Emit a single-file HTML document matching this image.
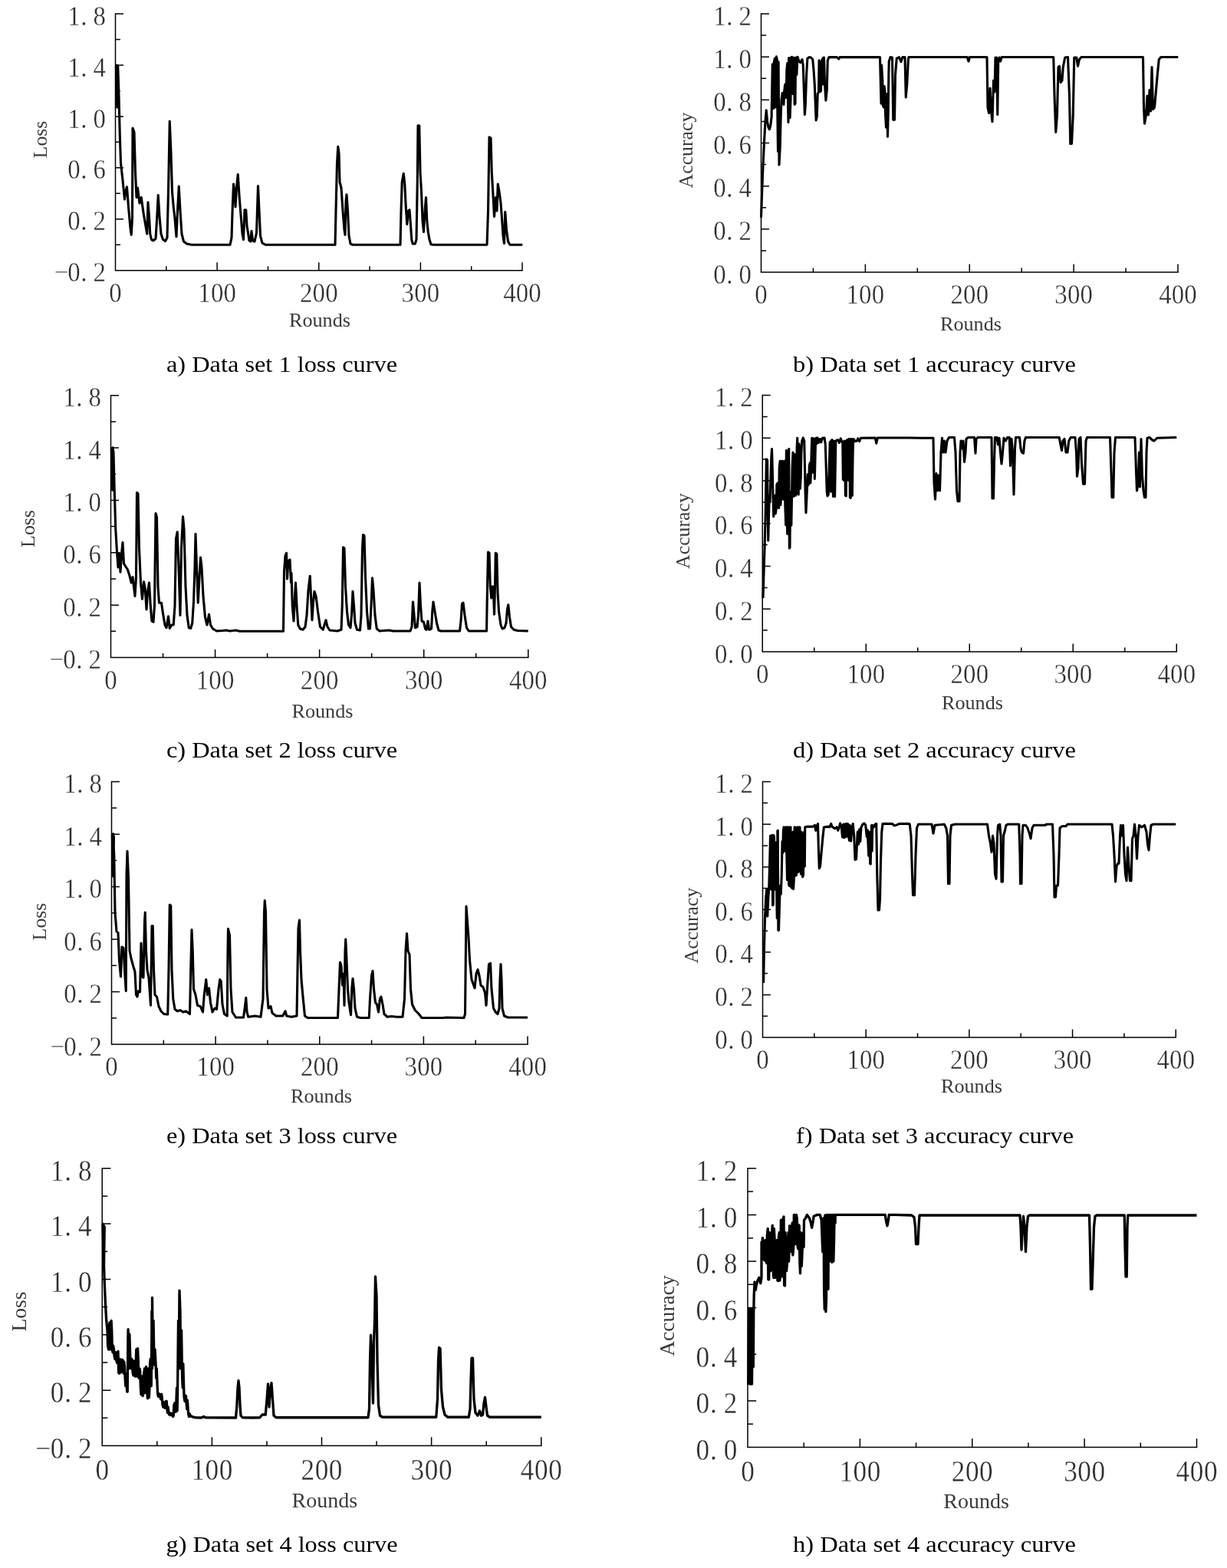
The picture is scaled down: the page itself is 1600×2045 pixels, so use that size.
<!DOCTYPE html>
<html><head><meta charset="utf-8"><title>Loss and accuracy curves</title>
<style>
html,body{margin:0;padding:0;background:#fff;}
svg{display:block}
text{font-family:"Liberation Serif", serif;}
.d{fill:#2e2e2e;stroke:#fff;stroke-width:0.35}
.l{fill:#3a3a3a}
.c{fill:#000}
.ax{fill:none;stroke:#000;stroke-width:1.5}
.tk{fill:none;stroke:#000;stroke-width:1.5}
.cv{fill:none;stroke:#000;stroke-linejoin:round;stroke-linecap:butt}
</style></head><body>
<svg width="1600" height="2045" viewBox="0 0 1600 2045">
<rect width="1600" height="2045" fill="#fff"/>
<path d="M150.5,17.25 V352.7 H681.75" class="ax"/>
<text transform="scale(0.9 1)" x="107.2 121.6 144.1" y="32.7" font-size="36.5" text-anchor="middle" class="d">1.8</text>
<text transform="scale(0.9 1)" x="107.2 121.6 144.1" y="99.6" font-size="36.5" text-anchor="middle" class="d">1.4</text>
<text transform="scale(0.9 1)" x="107.2 121.6 144.1" y="166.6" font-size="36.5" text-anchor="middle" class="d">1.0</text>
<text transform="scale(0.9 1)" x="107.2 121.6 144.1" y="233.5" font-size="36.5" text-anchor="middle" class="d">0.6</text>
<text transform="scale(0.9 1)" x="107.2 121.6 144.1" y="300.5" font-size="36.5" text-anchor="middle" class="d">0.2</text>
<text transform="scale(0.9 1)" x="88.8 107.2 121.6 144.1" y="367.4" font-size="36.5" text-anchor="middle" class="d">−0.2</text>
<text transform="scale(0.9 1)" x="167.2" y="393.9" font-size="36.5" text-anchor="middle" class="d">0</text>
<text transform="scale(0.9 1)" x="296.1 314.6 333.0" y="393.9" font-size="36.5" text-anchor="middle" class="d">100</text>
<text transform="scale(0.9 1)" x="443.5 461.9 480.4" y="393.9" font-size="36.5" text-anchor="middle" class="d">200</text>
<text transform="scale(0.9 1)" x="590.9 609.3 627.8" y="393.9" font-size="36.5" text-anchor="middle" class="d">300</text>
<text transform="scale(0.9 1)" x="738.2 756.7 775.1" y="393.9" font-size="36.5" text-anchor="middle" class="d">400</text>
<path d="M150.5,18.00h10.5M150.5,51.47h6.5M150.5,84.94h10.5M150.5,118.41h6.5M150.5,151.88h10.5M150.5,185.35h6.5M150.5,218.82h10.5M150.5,252.29h6.5M150.5,285.76h10.5M150.5,319.23h6.5M216.81,352.7v-5.5M283.12,352.7v-10.5M349.44,352.7v-5.5M415.75,352.7v-10.5M482.06,352.7v-5.5M548.38,352.7v-10.5M614.69,352.7v-5.5M681.00,352.7v-10.5" class="tk"/>
<polyline class="cv" stroke-width="3.10" points="151.4,85.94 152.7,139.94 153.5,88.94 152.5,85.0 153.75,86.25 155.0,125.0 156.25,175.0 157.5,212.5 160.0,235.0 162.5,260.0 163.75,250.0 165.5,243.75 167.5,270.0 170.0,297.5 171.25,306.25 172.5,285.0 173.0,167.0 175.0,172.5 176.5,225.0 178.0,257.5 179.5,245.0 182.0,265.0 184.25,257.5 187.0,277.5 190.0,295.0 191.75,305.0 193.0,263.75 194.5,282.5 195.75,305.0 197.5,312.5 200.0,313.75 203.0,311.25 204.5,287.5 206.25,254.5 208.0,282.5 210.0,305.0 212.5,312.5 215.5,314.5 218.0,310.0 219.5,250.0 221.25,158.0 223.0,200.0 224.5,250.0 226.25,270.0 228.0,285.0 230.0,308.75 231.5,275.0 233.25,243.0 235.0,275.0 237.0,305.0 239.5,315.0 243.75,318.0 250.0,319.25 300.0,319.25 302.0,310.0 303.25,270.0 304.5,240.0 306.0,250.0 307.0,270.0 308.5,245.0 310.25,227.5 312.0,255.0 314.0,280.0 316.0,305.0 317.5,312.5 319.0,273.75 320.75,273.75 322.0,295.0 323.5,303.75 325.0,313.75 326.75,315.0 328.0,301.25 329.5,313.75 332.0,315.0 334.5,303.75 336.5,242.5 338.0,275.0 339.5,307.5 342.0,317.0 346.25,319.25 400.0,319.25 437.0,319.25 438.0,275.0 439.5,212.5 440.75,191.25 442.0,200.0 443.0,237.5 445.0,245.0 447.0,275.0 449.0,300.0 450.0,306.25 451.0,262.5 452.0,253.75 453.5,275.0 455.0,307.5 457.0,318.0 460.0,319.25 522.0,319.25 523.0,275.0 524.25,237.5 526.25,226.25 527.75,240.0 529.25,270.0 530.75,292.5 532.5,275.0 534.0,273.75 535.25,290.0 536.75,312.5 538.25,318.0 541.25,318.0 543.0,312.5 544.25,237.5 545.0,163.75 546.75,163.75 548.0,225.0 549.5,250.0 551.0,287.5 552.5,302.5 554.0,275.0 555.5,257.5 556.75,287.5 558.25,302.5 560.0,312.5 562.0,318.75 565.0,319.25 635.0,319.25 636.5,275.0 638.0,178.75 640.0,180.0 641.25,225.0 643.0,255.0 644.5,282.5 646.5,257.5 648.0,275.0 649.25,240.0 651.0,250.0 653.0,265.0 654.5,285.0 656.0,307.5 657.5,317.5 658.75,276.25 660.5,300.0 662.5,315.0 665.0,319.25 681.25,319.25"/>
<text transform="translate(61,182) rotate(-90)" text-anchor="middle" font-size="25.8" class="l">Loss</text>
<text x="417" y="426" text-anchor="middle" font-size="26.2" class="l">Rounds</text>
<text x="217" y="484.5" textLength="301" lengthAdjust="spacingAndGlyphs" font-size="29" class="c">a) Data set 1 loss curve</text>
<path d="M992.5,17.25 V355 H1536.75" class="ax"/>
<text transform="scale(0.9 1)" x="1042.8 1057.2 1079.7" y="32.7" font-size="36.5" text-anchor="middle" class="d">1.2</text>
<text transform="scale(0.9 1)" x="1042.8 1057.2 1079.7" y="88.9" font-size="36.5" text-anchor="middle" class="d">1.0</text>
<text transform="scale(0.9 1)" x="1042.8 1057.2 1079.7" y="145.0" font-size="36.5" text-anchor="middle" class="d">0.8</text>
<text transform="scale(0.9 1)" x="1042.8 1057.2 1079.7" y="201.2" font-size="36.5" text-anchor="middle" class="d">0.6</text>
<text transform="scale(0.9 1)" x="1042.8 1057.2 1079.7" y="257.4" font-size="36.5" text-anchor="middle" class="d">0.4</text>
<text transform="scale(0.9 1)" x="1042.8 1057.2 1079.7" y="313.5" font-size="36.5" text-anchor="middle" class="d">0.2</text>
<text transform="scale(0.9 1)" x="1042.8 1057.2 1079.7" y="369.7" font-size="36.5" text-anchor="middle" class="d">0.0</text>
<text transform="scale(0.9 1)" x="1102.8" y="396.2" font-size="36.5" text-anchor="middle" class="d">0</text>
<text transform="scale(0.9 1)" x="1235.3 1253.7 1272.2" y="396.2" font-size="36.5" text-anchor="middle" class="d">100</text>
<text transform="scale(0.9 1)" x="1386.3 1404.7 1423.2" y="396.2" font-size="36.5" text-anchor="middle" class="d">200</text>
<text transform="scale(0.9 1)" x="1537.2 1555.7 1574.1" y="396.2" font-size="36.5" text-anchor="middle" class="d">300</text>
<text transform="scale(0.9 1)" x="1688.2 1706.7 1725.1" y="396.2" font-size="36.5" text-anchor="middle" class="d">400</text>
<path d="M992.5,18.00h10.5M992.5,46.08h6.5M992.5,74.17h10.5M992.5,102.25h6.5M992.5,130.33h10.5M992.5,158.42h6.5M992.5,186.50h10.5M992.5,214.58h6.5M992.5,242.67h10.5M992.5,270.75h6.5M992.5,298.83h10.5M992.5,326.92h6.5M1060.44,355v-5.5M1128.38,355v-10.5M1196.31,355v-5.5M1264.25,355v-10.5M1332.19,355v-5.5M1400.12,355v-10.5M1468.06,355v-5.5M1536.00,355v-10.5" class="tk"/>
<polyline class="cv" stroke-width="3.10" points="992.5,283.75 993.75,247.5 995.0,216.25 996.5,185.0 997.88,160.0 999.25,143.75 1000.62,158.75 1002.0,166.25 1003.38,168.75 1004.75,163.75 1006.12,152.5 1007.25,83.75 1007.85,140.0 1008.75,141.25 1009.35,81.25 1010.25,76.25 1010.85,140.0 1011.75,117.5 1012.35,73.75 1013.25,77.5 1013.85,147.5 1014.5,197.5 1015.1,80.62 1016.0,215.0 1017.25,191.25 1018.12,153.75 1019.0,130.0 1020.25,121.25 1020.85,135.0 1022.0,136.25 1022.6,119.38 1023.75,110.0 1024.35,127.5 1025.25,125.0 1025.85,91.25 1026.75,82.5 1027.35,127.5 1028.0,159.38 1028.6,75.62 1029.5,76.25 1030.1,153.75 1031.0,130.0 1031.6,75.0 1032.5,74.38 1033.1,116.25 1034.0,122.5 1034.6,75.0 1035.5,75.62 1036.1,136.25 1037.0,135.0 1037.6,75.62 1038.25,75.0 1038.85,97.5 1040.0,74.25 1041.88,80.0 1043.75,81.5 1046.0,77.5 1047.25,85.0 1048.5,122.5 1049.38,149.38 1050.38,135.0 1051.62,97.5 1052.88,76.25 1055.0,74.62 1057.5,75.0 1059.75,77.5 1061.0,91.25 1062.25,110.0 1063.25,135.0 1064.12,156.88 1065.25,152.5 1066.25,122.5 1067.5,120.0 1068.1,78.75 1069.0,85.0 1069.6,119.38 1070.5,118.75 1071.1,82.5 1072.0,77.5 1072.6,110.0 1073.25,75.62 1074.5,75.0 1075.5,110.0 1076.88,131.0 1078.25,117.5 1079.25,78.75 1081.0,74.62 1091.25,74.62 1093.75,76.88 1095.0,74.62 1147.5,74.62 1149.0,135.0 1149.6,85.0 1150.75,103.75 1151.35,137.5 1152.5,140.0 1153.1,112.5 1154.0,120.0 1154.6,150.0 1155.5,166.25 1156.1,122.5 1156.88,130.0 1157.48,178.12 1158.25,147.5 1158.85,97.5 1159.25,80.0 1161.0,74.62 1163.5,75.0 1164.75,156.25 1166.5,156.25 1167.5,97.5 1169.25,76.25 1172.5,74.62 1175.0,80.62 1176.88,74.62 1180.0,74.62 1181.25,126.88 1182.75,110.0 1184.38,77.5 1185.0,74.62 1186.25,74.5 1200.0,74.5 1261.25,74.5 1263.0,80.0 1264.5,74.5 1287.0,74.5 1288.0,140.0 1289.5,147.5 1291.0,115.0 1292.5,145.0 1294.0,158.75 1295.5,105.0 1297.0,120.0 1298.0,75.0 1299.5,75.0 1300.75,149.5 1301.75,80.0 1303.0,75.0 1304.5,80.0 1306.25,74.5 1373.75,74.5 1375.0,125.0 1376.75,172.5 1378.5,150.0 1380.0,87.5 1381.5,86.25 1383.0,107.5 1385.0,105.0 1386.25,87.5 1388.75,75.0 1392.5,74.5 1394.5,125.0 1395.75,187.5 1397.5,187.5 1399.25,150.0 1400.75,75.0 1403.75,75.0 1405.5,86.25 1407.5,77.5 1410.0,74.5 1490.5,74.5 1491.5,140.0 1492.5,161.25 1494.5,150.0 1496.0,125.0 1497.5,150.0 1499.0,117.5 1500.5,145.0 1502.0,87.5 1503.5,142.5 1505.5,140.0 1507.5,117.5 1509.5,95.0 1511.25,77.5 1513.75,74.5 1536.25,74.5"/>
<text transform="translate(902.5,196) rotate(-90)" text-anchor="middle" font-size="25.8" class="l">Accuracy</text>
<text x="1266" y="430.5" text-anchor="middle" font-size="26.2" class="l">Rounds</text>
<text x="1034" y="484.5" textLength="369" lengthAdjust="spacingAndGlyphs" font-size="29" class="c">b) Data set 1 accuracy curve</text>
<path d="M144.5,515.0 V857.5 H689.5" class="ax"/>
<text transform="scale(0.9 1)" x="100.6 114.9 137.4" y="530.5" font-size="36.5" text-anchor="middle" class="d">1.8</text>
<text transform="scale(0.9 1)" x="100.6 114.9 137.4" y="598.8" font-size="36.5" text-anchor="middle" class="d">1.4</text>
<text transform="scale(0.9 1)" x="100.6 114.9 137.4" y="667.2" font-size="36.5" text-anchor="middle" class="d">1.0</text>
<text transform="scale(0.9 1)" x="100.6 114.9 137.4" y="735.5" font-size="36.5" text-anchor="middle" class="d">0.6</text>
<text transform="scale(0.9 1)" x="100.6 114.9 137.4" y="803.9" font-size="36.5" text-anchor="middle" class="d">0.2</text>
<text transform="scale(0.9 1)" x="82.1 100.6 114.9 137.4" y="872.2" font-size="36.5" text-anchor="middle" class="d">−0.2</text>
<text transform="scale(0.9 1)" x="160.6" y="898.7" font-size="36.5" text-anchor="middle" class="d">0</text>
<text transform="scale(0.9 1)" x="293.3 311.7 330.2" y="898.7" font-size="36.5" text-anchor="middle" class="d">100</text>
<text transform="scale(0.9 1)" x="444.5 462.9 481.4" y="898.7" font-size="36.5" text-anchor="middle" class="d">200</text>
<text transform="scale(0.9 1)" x="595.7 614.1 632.5" y="898.7" font-size="36.5" text-anchor="middle" class="d">300</text>
<text transform="scale(0.9 1)" x="746.8 765.3 783.7" y="898.7" font-size="36.5" text-anchor="middle" class="d">400</text>
<path d="M144.5,515.75h10.5M144.5,549.92h6.5M144.5,584.10h10.5M144.5,618.27h6.5M144.5,652.45h10.5M144.5,686.62h6.5M144.5,720.80h10.5M144.5,754.97h6.5M144.5,789.15h10.5M144.5,823.32h6.5M212.53,857.5v-5.5M280.56,857.5v-10.5M348.59,857.5v-5.5M416.62,857.5v-10.5M484.66,857.5v-5.5M552.69,857.5v-10.5M620.72,857.5v-5.5M688.75,857.5v-10.5" class="tk"/>
<polyline class="cv" stroke-width="3.10" points="145.4,585.1 146.7,639.1 147.5,588.1 147.0,583.75 148.0,590.0 149.25,640.0 150.75,690.0 152.5,720.0 154.0,740.0 155.5,721.25 157.0,746.25 158.5,722.5 160.0,707.5 161.5,735.0 163.75,738.75 166.25,742.5 168.75,750.0 171.25,760.0 173.0,752.5 174.5,765.0 176.0,777.5 177.5,752.5 178.5,642.5 180.0,643.75 181.5,715.0 183.5,760.0 185.5,781.25 187.5,758.75 189.25,767.5 191.0,795.0 192.5,772.5 194.5,760.0 196.25,790.0 198.0,810.0 200.0,811.25 201.5,790.0 203.0,669.5 204.5,675.0 206.0,765.0 207.5,786.25 210.5,786.25 212.5,800.0 215.0,815.0 217.0,818.75 219.5,803.75 221.25,819.5 223.75,815.0 226.25,815.0 228.0,790.0 229.5,702.5 231.25,693.75 233.0,740.0 235.0,802.5 236.5,715.0 238.5,673.75 240.0,690.0 242.0,765.0 244.0,802.5 246.25,818.75 248.75,819.5 250.75,812.5 252.5,785.0 254.0,740.0 255.0,696.25 256.5,740.0 258.25,786.25 260.0,752.5 261.5,727.0 263.0,740.0 265.0,777.5 267.5,805.0 270.0,815.0 272.5,801.25 274.5,815.0 277.5,820.0 282.5,823.0 290.0,822.5 295.0,822.0 300.0,823.0 307.5,822.0 312.5,823.25 369.5,823.25 370.5,745.0 372.0,725.0 373.5,721.25 374.5,755.0 376.0,731.25 378.0,730.0 379.5,760.0 380.0,747.5 381.25,790.0 383.0,810.0 384.5,777.5 385.5,760.0 387.0,790.0 388.75,815.0 391.25,820.0 395.0,821.25 398.0,817.5 400.0,802.5 402.0,770.0 404.25,751.25 405.5,777.5 407.0,808.75 408.5,785.0 410.0,771.25 412.0,777.5 414.5,797.5 417.5,817.5 421.25,821.25 423.0,815.0 425.0,808.75 427.0,817.5 430.0,822.0 440.0,823.0 445.0,821.25 446.25,790.0 447.5,713.75 449.0,715.0 450.5,765.0 452.5,797.5 454.5,815.0 457.0,818.75 458.5,802.5 460.0,771.25 461.5,790.0 463.0,812.5 465.5,821.25 469.5,822.0 471.0,802.5 472.5,715.0 473.5,697.5 475.0,698.75 476.5,752.5 478.5,797.5 480.5,820.0 482.5,820.0 484.0,790.0 485.5,753.75 487.0,770.0 489.0,802.5 491.25,820.0 495.0,823.0 500.0,822.5 507.5,822.0 512.5,823.0 535.0,823.0 537.0,817.5 538.5,785.0 540.0,802.5 541.5,818.75 544.0,817.5 545.5,802.5 547.0,760.0 548.5,790.0 550.0,810.0 552.5,811.25 554.5,820.0 556.0,821.25 558.0,810.0 559.5,821.25 562.5,820.0 563.75,797.5 565.0,785.0 567.0,797.5 569.5,812.5 572.0,822.0 575.0,823.0 599.5,823.0 601.0,810.0 602.5,787.5 604.0,786.25 606.0,802.5 608.5,818.75 611.25,823.0 634.5,823.0 635.5,765.0 636.5,720.0 638.0,721.25 639.25,765.0 640.75,780.0 642.0,765.0 643.25,765.0 644.5,801.25 645.5,765.0 646.25,721.25 647.75,722.5 649.0,772.5 650.5,797.5 653.0,815.0 655.0,820.0 658.0,818.75 660.0,812.5 661.5,795.0 662.75,788.75 664.5,805.0 666.5,817.5 670.0,821.25 675.0,822.5 688.75,823.0"/>
<text transform="translate(45,689.5) rotate(-90)" text-anchor="middle" font-size="25.8" class="l">Loss</text>
<text x="420.5" y="935.6" text-anchor="middle" font-size="26.2" class="l">Rounds</text>
<text x="217" y="987.5" textLength="301" lengthAdjust="spacingAndGlyphs" font-size="29" class="c">c) Data set 2 loss curve</text>
<path d="M994.25,514.75 V850 H1535.0" class="ax"/>
<text transform="scale(0.9 1)" x="1044.7 1059.1 1081.6" y="530.2" font-size="36.5" text-anchor="middle" class="d">1.2</text>
<text transform="scale(0.9 1)" x="1044.7 1059.1 1081.6" y="586.0" font-size="36.5" text-anchor="middle" class="d">1.0</text>
<text transform="scale(0.9 1)" x="1044.7 1059.1 1081.6" y="641.7" font-size="36.5" text-anchor="middle" class="d">0.8</text>
<text transform="scale(0.9 1)" x="1044.7 1059.1 1081.6" y="697.5" font-size="36.5" text-anchor="middle" class="d">0.6</text>
<text transform="scale(0.9 1)" x="1044.7 1059.1 1081.6" y="753.2" font-size="36.5" text-anchor="middle" class="d">0.4</text>
<text transform="scale(0.9 1)" x="1044.7 1059.1 1081.6" y="809.0" font-size="36.5" text-anchor="middle" class="d">0.2</text>
<text transform="scale(0.9 1)" x="1044.7 1059.1 1081.6" y="864.7" font-size="36.5" text-anchor="middle" class="d">0.0</text>
<text transform="scale(0.9 1)" x="1104.7" y="891.2" font-size="36.5" text-anchor="middle" class="d">0</text>
<text transform="scale(0.9 1)" x="1236.3 1254.7 1273.2" y="891.2" font-size="36.5" text-anchor="middle" class="d">100</text>
<text transform="scale(0.9 1)" x="1386.3 1404.7 1423.2" y="891.2" font-size="36.5" text-anchor="middle" class="d">200</text>
<text transform="scale(0.9 1)" x="1536.3 1554.7 1573.2" y="891.2" font-size="36.5" text-anchor="middle" class="d">300</text>
<text transform="scale(0.9 1)" x="1686.3 1704.7 1723.2" y="891.2" font-size="36.5" text-anchor="middle" class="d">400</text>
<path d="M994.25,515.50h10.5M994.25,543.38h6.5M994.25,571.25h10.5M994.25,599.12h6.5M994.25,627.00h10.5M994.25,654.88h6.5M994.25,682.75h10.5M994.25,710.62h6.5M994.25,738.50h10.5M994.25,766.38h6.5M994.25,794.25h10.5M994.25,822.12h6.5M1061.75,850v-5.5M1129.25,850v-10.5M1196.75,850v-5.5M1264.25,850v-10.5M1331.75,850v-5.5M1399.25,850v-10.5M1466.75,850v-5.5M1534.25,850v-10.5" class="tk"/>
<polyline class="cv" stroke-width="3.10" points="995.0,780.0 996.0,747.5 997.0,716.25 998.0,678.75 998.75,635.0 999.38,598.75 1000.62,600.0 1001.25,672.5 1001.75,705.0 1002.5,672.5 1003.25,647.5 1004.0,655.0 1005.0,622.5 1005.75,597.5 1006.5,585.62 1007.25,610.0 1008.0,647.5 1008.75,673.75 1009.75,647.5 1010.62,646.25 1011.22,670.0 1012.25,663.75 1012.85,632.5 1014.0,630.0 1014.6,661.25 1015.62,662.5 1016.22,610.0 1017.25,601.25 1017.85,658.75 1018.75,647.5 1019.35,601.25 1020.25,601.25 1020.85,650.0 1021.75,651.25 1022.35,601.88 1023.25,601.25 1023.85,660.0 1024.75,685.0 1025.35,587.5 1026.0,587.5 1026.6,696.25 1027.5,696.25 1028.1,588.75 1028.75,585.62 1029.35,715.0 1030.0,713.75 1030.6,647.5 1031.25,641.25 1031.85,685.0 1032.5,650.0 1033.1,610.0 1034.0,590.0 1034.6,647.5 1035.5,646.25 1036.1,592.5 1037.0,597.5 1037.6,646.25 1038.5,641.25 1039.1,585.0 1039.75,571.25 1040.35,642.5 1041.25,645.0 1041.85,578.75 1042.75,582.5 1043.35,637.5 1044.25,622.5 1044.85,591.25 1045.75,575.0 1047.25,571.0 1048.75,575.0 1049.5,610.0 1050.25,647.5 1051.0,668.75 1052.0,647.5 1053.25,618.75 1053.85,632.5 1054.75,630.62 1055.35,607.5 1056.25,603.75 1056.85,630.0 1057.5,616.25 1058.1,591.25 1058.75,571.25 1059.35,610.0 1060.25,616.25 1060.85,571.88 1061.75,572.5 1062.35,624.38 1063.0,597.5 1063.6,571.88 1064.25,571.25 1064.85,578.75 1066.0,571.0 1067.25,577.5 1069.0,572.5 1070.75,576.88 1072.5,571.25 1075.0,571.0 1076.25,578.75 1077.25,610.0 1078.25,641.25 1079.0,646.88 1080.25,645.0 1081.25,610.0 1082.25,576.25 1083.5,641.25 1084.1,574.38 1085.0,573.75 1085.6,610.0 1086.5,647.5 1087.1,575.0 1088.0,576.25 1088.6,647.5 1089.25,610.0 1089.85,575.0 1090.62,574.38 1092.5,573.75 1094.38,577.5 1096.25,571.88 1097.88,576.25 1098.75,576.25 1099.35,625.0 1100.25,626.25 1100.85,575.0 1101.75,575.62 1102.35,646.25 1103.25,646.88 1103.85,575.0 1104.75,573.75 1105.35,625.0 1106.25,626.25 1106.85,572.5 1107.75,572.5 1108.35,648.75 1109.25,649.38 1109.85,572.5 1110.75,572.5 1111.35,646.25 1112.0,597.5 1112.6,572.5 1113.0,572.5 1115.0,575.62 1117.5,575.0 1118.75,571.88 1120.62,575.62 1122.5,571.25 1141.25,571.0 1142.75,578.12 1144.38,571.0 1185.0,571.0 1200.0,571.25 1217.0,571.25 1218.0,630.0 1219.5,651.25 1221.0,617.5 1222.5,640.0 1224.0,620.0 1225.5,640.0 1227.0,590.0 1228.5,571.25 1230.0,590.0 1231.5,575.0 1233.0,590.0 1235.0,575.0 1237.5,570.5 1244.5,570.5 1246.0,590.0 1247.5,640.0 1249.0,653.75 1251.0,653.75 1252.0,590.0 1253.0,575.0 1254.5,585.0 1256.0,575.0 1257.5,602.5 1259.0,590.0 1260.0,572.5 1262.5,570.5 1270.5,570.5 1272.0,591.25 1273.0,572.5 1275.0,570.5 1293.0,570.5 1294.0,650.0 1295.5,650.0 1296.5,600.0 1297.5,570.5 1300.0,570.5 1301.5,580.0 1303.0,571.25 1304.5,590.0 1306.0,605.0 1307.5,590.0 1309.0,571.25 1311.25,575.0 1313.75,570.5 1316.25,570.5 1317.5,607.5 1319.0,572.5 1320.5,590.0 1322.0,645.0 1323.5,585.0 1324.5,570.5 1329.5,570.5 1331.0,585.0 1332.5,590.0 1334.5,591.25 1336.0,575.0 1337.5,570.5 1381.25,570.5 1383.0,580.0 1384.5,587.5 1386.0,575.0 1388.0,572.5 1390.0,590.0 1392.0,590.0 1393.75,575.0 1396.25,570.5 1402.0,570.5 1403.5,590.0 1404.5,621.25 1406.0,610.0 1407.0,572.5 1409.0,570.5 1410.5,605.0 1412.5,631.25 1414.5,631.25 1416.0,575.0 1417.5,570.5 1447.5,570.5 1449.0,615.0 1450.0,648.75 1451.75,648.75 1453.0,590.0 1454.5,570.5 1480.0,570.5 1481.5,615.0 1482.5,640.0 1484.0,630.0 1485.5,590.0 1486.5,635.0 1488.0,572.5 1489.5,620.0 1491.0,640.0 1492.5,648.75 1494.0,648.75 1495.0,590.0 1496.0,571.25 1498.75,570.5 1502.5,573.75 1505.0,575.0 1508.75,571.25 1534.25,570.5"/>
<text transform="translate(898.75,692.5) rotate(-90)" text-anchor="middle" font-size="25.8" class="l">Accuracy</text>
<text x="1268" y="924.5" text-anchor="middle" font-size="26.2" class="l">Rounds</text>
<text x="1034" y="987.5" textLength="369" lengthAdjust="spacingAndGlyphs" font-size="29" class="c">d) Data set 2 accuracy curve</text>
<path d="M145.5,1018.75 V1362 H688.75" class="ax"/>
<text transform="scale(0.9 1)" x="101.7 116.1 138.6" y="1034.2" font-size="36.5" text-anchor="middle" class="d">1.8</text>
<text transform="scale(0.9 1)" x="101.7 116.1 138.6" y="1102.7" font-size="36.5" text-anchor="middle" class="d">1.4</text>
<text transform="scale(0.9 1)" x="101.7 116.1 138.6" y="1171.2" font-size="36.5" text-anchor="middle" class="d">1.0</text>
<text transform="scale(0.9 1)" x="101.7 116.1 138.6" y="1239.7" font-size="36.5" text-anchor="middle" class="d">0.6</text>
<text transform="scale(0.9 1)" x="101.7 116.1 138.6" y="1308.2" font-size="36.5" text-anchor="middle" class="d">0.2</text>
<text transform="scale(0.9 1)" x="83.2 101.7 116.1 138.6" y="1376.7" font-size="36.5" text-anchor="middle" class="d">−0.2</text>
<text transform="scale(0.9 1)" x="161.7" y="1403.2" font-size="36.5" text-anchor="middle" class="d">0</text>
<text transform="scale(0.9 1)" x="293.9 312.4 330.8" y="1403.2" font-size="36.5" text-anchor="middle" class="d">100</text>
<text transform="scale(0.9 1)" x="444.6 463.1 481.5" y="1403.2" font-size="36.5" text-anchor="middle" class="d">200</text>
<text transform="scale(0.9 1)" x="595.3 613.8 632.2" y="1403.2" font-size="36.5" text-anchor="middle" class="d">300</text>
<text transform="scale(0.9 1)" x="746.0 764.4 782.9" y="1403.2" font-size="36.5" text-anchor="middle" class="d">400</text>
<path d="M145.5,1019.50h10.5M145.5,1053.75h6.5M145.5,1088.00h10.5M145.5,1122.25h6.5M145.5,1156.50h10.5M145.5,1190.75h6.5M145.5,1225.00h10.5M145.5,1259.25h6.5M145.5,1293.50h10.5M145.5,1327.75h6.5M213.31,1362v-5.5M281.12,1362v-10.5M348.94,1362v-5.5M416.75,1362v-10.5M484.56,1362v-5.5M552.38,1362v-10.5M620.19,1362v-5.5M688.00,1362v-10.5" class="tk"/>
<polyline class="cv" stroke-width="3.10" points="146.4,1089.0 147.7,1143.0 148.5,1092.0 147.5,1087.5 148.75,1115.0 150.0,1190.0 152.0,1215.0 154.0,1216.25 155.5,1252.5 157.5,1273.75 159.0,1235.0 161.0,1236.25 162.5,1265.0 164.25,1292.5 165.0,1140.0 166.0,1110.0 167.5,1145.0 169.0,1240.0 171.0,1250.0 173.75,1260.0 176.0,1267.5 177.5,1297.5 179.0,1300.0 180.5,1292.5 182.5,1293.75 184.0,1230.0 185.5,1273.75 187.0,1275.0 188.5,1202.5 189.25,1190.0 190.5,1240.0 192.0,1265.0 194.0,1275.0 196.5,1311.25 198.0,1207.5 199.25,1207.5 200.5,1265.0 202.0,1297.5 204.5,1300.0 207.0,1312.5 210.0,1318.75 213.75,1322.5 218.75,1323.0 220.0,1265.0 221.25,1180.0 222.75,1181.25 224.0,1265.0 225.75,1302.5 228.0,1316.25 231.25,1318.75 235.0,1317.5 238.75,1320.0 242.5,1318.75 247.5,1322.5 248.75,1265.0 250.0,1212.5 251.25,1240.0 252.5,1290.0 255.0,1297.5 257.5,1311.25 261.25,1312.5 264.5,1320.0 266.25,1297.5 268.75,1277.5 270.5,1297.5 272.5,1288.75 274.5,1307.5 277.0,1320.0 280.0,1315.0 282.5,1316.25 285.0,1290.0 286.75,1277.5 288.25,1280.0 290.0,1310.0 292.5,1322.5 296.25,1325.0 297.0,1240.0 297.5,1211.25 299.5,1220.0 301.0,1290.0 303.0,1320.0 307.5,1327.0 317.5,1327.0 319.5,1312.5 320.75,1301.25 322.0,1320.0 323.75,1326.25 332.5,1325.0 340.0,1326.25 343.0,1302.5 344.5,1190.0 345.25,1174.5 346.5,1190.0 348.0,1290.0 350.0,1315.0 353.0,1312.5 355.0,1321.25 360.0,1325.0 368.75,1325.0 372.0,1318.75 373.75,1325.0 380.0,1326.25 387.0,1325.0 388.0,1265.0 389.0,1210.0 390.5,1200.0 391.5,1240.0 393.0,1277.5 395.0,1300.0 397.5,1325.0 401.25,1327.5 440.5,1327.5 442.0,1290.0 443.5,1255.0 445.0,1260.0 446.5,1285.0 448.0,1270.0 449.0,1311.25 450.0,1240.0 450.75,1225.0 452.0,1252.5 453.5,1290.0 455.0,1307.5 457.5,1323.75 458.75,1290.0 460.0,1276.25 461.5,1290.0 463.0,1315.0 465.5,1326.25 470.0,1327.5 481.25,1327.5 482.5,1302.5 484.5,1272.5 486.0,1266.25 487.5,1290.0 489.5,1307.5 491.5,1310.0 493.5,1320.0 495.5,1302.5 497.0,1300.0 499.0,1310.0 501.0,1322.5 505.0,1326.25 510.0,1325.5 517.5,1326.25 525.0,1326.25 527.5,1302.5 529.0,1240.0 530.5,1217.5 532.0,1240.0 534.0,1245.0 535.5,1290.0 537.5,1310.0 541.25,1317.5 546.25,1322.5 550.0,1327.5 577.5,1327.5 582.5,1327.0 605.0,1327.5 606.5,1322.5 607.25,1252.5 608.0,1182.0 609.5,1202.5 611.0,1222.5 612.5,1252.5 615.0,1277.5 619.0,1288.75 621.0,1270.0 623.0,1264.5 625.0,1272.5 627.0,1285.0 630.0,1287.5 632.5,1295.0 634.0,1311.25 635.5,1287.5 637.5,1257.5 639.5,1256.25 641.0,1290.0 643.5,1315.0 646.25,1320.0 649.0,1322.5 651.0,1315.0 652.0,1277.5 653.0,1257.5 654.0,1277.5 655.0,1315.0 657.5,1325.0 662.5,1327.0 688.0,1327.0"/>
<text transform="translate(59.5,1202) rotate(-90)" text-anchor="middle" font-size="25.8" class="l">Loss</text>
<text x="419" y="1438" text-anchor="middle" font-size="26.2" class="l">Rounds</text>
<text x="217" y="1490.5" textLength="301" lengthAdjust="spacingAndGlyphs" font-size="29" class="c">e) Data set 3 loss curve</text>
<path d="M994.5,1018.75 V1353 H1534.0" class="ax"/>
<text transform="scale(0.9 1)" x="1045.0 1059.4 1081.9" y="1034.2" font-size="36.5" text-anchor="middle" class="d">1.2</text>
<text transform="scale(0.9 1)" x="1045.0 1059.4 1081.9" y="1089.8" font-size="36.5" text-anchor="middle" class="d">1.0</text>
<text transform="scale(0.9 1)" x="1045.0 1059.4 1081.9" y="1145.4" font-size="36.5" text-anchor="middle" class="d">0.8</text>
<text transform="scale(0.9 1)" x="1045.0 1059.4 1081.9" y="1201.0" font-size="36.5" text-anchor="middle" class="d">0.6</text>
<text transform="scale(0.9 1)" x="1045.0 1059.4 1081.9" y="1256.5" font-size="36.5" text-anchor="middle" class="d">0.4</text>
<text transform="scale(0.9 1)" x="1045.0 1059.4 1081.9" y="1312.1" font-size="36.5" text-anchor="middle" class="d">0.2</text>
<text transform="scale(0.9 1)" x="1045.0 1059.4 1081.9" y="1367.7" font-size="36.5" text-anchor="middle" class="d">0.0</text>
<text transform="scale(0.9 1)" x="1105.0" y="1394.2" font-size="36.5" text-anchor="middle" class="d">0</text>
<text transform="scale(0.9 1)" x="1236.2 1254.7 1273.1" y="1394.2" font-size="36.5" text-anchor="middle" class="d">100</text>
<text transform="scale(0.9 1)" x="1385.9 1404.3 1422.7" y="1394.2" font-size="36.5" text-anchor="middle" class="d">200</text>
<text transform="scale(0.9 1)" x="1535.5 1554.0 1572.4" y="1394.2" font-size="36.5" text-anchor="middle" class="d">300</text>
<text transform="scale(0.9 1)" x="1685.2 1703.6 1722.1" y="1394.2" font-size="36.5" text-anchor="middle" class="d">400</text>
<path d="M994.5,1019.50h10.5M994.5,1047.29h6.5M994.5,1075.08h10.5M994.5,1102.88h6.5M994.5,1130.67h10.5M994.5,1158.46h6.5M994.5,1186.25h10.5M994.5,1214.04h6.5M994.5,1241.83h10.5M994.5,1269.62h6.5M994.5,1297.42h10.5M994.5,1325.21h6.5M1061.84,1353v-5.5M1129.19,1353v-10.5M1196.53,1353v-5.5M1263.88,1353v-10.5M1331.22,1353v-5.5M1398.56,1353v-10.5M1465.91,1353v-5.5M1533.25,1353v-10.5" class="tk"/>
<polyline class="cv" stroke-width="3.10" points="995.62,1282.0 996.5,1235.0 997.5,1197.5 998.75,1170.0 999.75,1160.0 1000.75,1195.0 1001.75,1172.5 1002.75,1157.5 1003.75,1122.5 1004.5,1090.0 1005.1,1158.75 1005.75,1160.0 1006.35,1089.38 1007.0,1089.38 1007.6,1180.62 1008.25,1180.0 1008.85,1089.38 1009.5,1092.5 1010.1,1160.0 1010.75,1160.0 1011.35,1098.75 1012.0,1101.25 1012.6,1158.75 1013.25,1197.5 1013.85,1083.75 1014.25,1083.12 1014.85,1213.12 1015.5,1213.12 1016.5,1178.75 1017.25,1155.0 1018.25,1166.25 1019.25,1141.25 1020.0,1097.5 1020.75,1112.5 1021.35,1085.0 1022.0,1078.75 1022.6,1110.0 1023.5,1110.0 1024.1,1078.75 1025.0,1078.75 1025.6,1105.0 1026.5,1147.5 1027.1,1078.75 1028.0,1078.75 1028.6,1153.75 1029.5,1155.62 1030.1,1078.75 1031.0,1078.75 1031.6,1156.25 1032.5,1158.12 1033.1,1113.75 1034.0,1085.0 1034.6,1159.38 1035.5,1143.75 1036.1,1078.75 1037.0,1078.75 1037.6,1141.88 1038.5,1141.25 1039.1,1085.0 1040.0,1078.75 1040.6,1137.5 1041.5,1135.0 1042.1,1078.75 1043.0,1078.75 1043.6,1133.75 1044.5,1140.0 1045.1,1085.0 1046.0,1090.0 1046.6,1143.75 1047.5,1141.25 1048.1,1090.0 1048.75,1085.0 1049.35,1130.0 1049.75,1078.75 1052.5,1078.12 1060.0,1078.12 1062.5,1076.25 1063.75,1083.12 1065.0,1077.5 1066.5,1074.38 1067.25,1102.5 1068.25,1132.5 1069.5,1130.0 1071.25,1110.0 1073.0,1091.25 1074.38,1078.75 1080.0,1078.12 1081.88,1078.75 1083.75,1074.38 1085.0,1078.12 1088.75,1080.62 1091.25,1078.75 1092.75,1083.12 1094.38,1078.75 1095.62,1073.75 1097.25,1078.75 1098.5,1091.88 1099.1,1076.25 1100.0,1075.0 1100.6,1092.5 1101.5,1091.88 1102.1,1075.0 1103.0,1074.38 1103.6,1091.25 1104.5,1090.62 1105.1,1074.38 1106.0,1075.0 1106.6,1090.0 1107.5,1096.25 1108.1,1076.25 1109.0,1078.75 1109.6,1096.88 1110.5,1085.0 1111.1,1078.75 1112.25,1074.38 1113.75,1091.25 1115.0,1121.25 1116.5,1120.62 1117.5,1100.0 1118.25,1085.0 1118.85,1101.25 1119.75,1100.62 1120.35,1082.5 1121.25,1081.25 1121.85,1097.5 1122.5,1085.0 1123.1,1078.75 1125.0,1075.0 1126.88,1073.75 1128.75,1076.25 1130.25,1091.25 1131.25,1082.5 1131.85,1097.5 1132.75,1116.25 1133.35,1085.0 1134.0,1091.25 1134.6,1126.25 1135.25,1126.88 1135.85,1097.5 1136.5,1076.25 1137.1,1110.0 1137.75,1076.25 1139.38,1078.75 1141.25,1075.0 1142.75,1074.38 1143.75,1141.25 1145.0,1186.88 1146.5,1186.88 1147.5,1172.5 1148.5,1122.5 1149.75,1085.0 1151.0,1074.38 1163.75,1074.38 1166.25,1076.88 1170.0,1075.62 1172.5,1074.38 1185.0,1074.38 1186.25,1075.0 1188.0,1090.0 1189.5,1140.0 1190.5,1167.5 1192.5,1167.5 1194.0,1115.0 1195.5,1080.0 1197.5,1075.0 1200.0,1075.0 1215.0,1075.0 1217.0,1087.0 1219.0,1076.25 1231.25,1075.0 1233.75,1080.0 1235.5,1090.0 1236.5,1152.5 1238.0,1152.5 1239.0,1090.0 1240.5,1076.25 1245.0,1075.0 1287.5,1075.0 1289.5,1090.0 1291.5,1100.0 1293.0,1111.25 1294.5,1090.0 1296.0,1100.0 1297.5,1140.0 1299.0,1146.25 1300.5,1090.0 1301.5,1076.25 1303.75,1075.0 1305.0,1090.0 1306.0,1150.0 1307.5,1150.0 1308.5,1090.0 1310.0,1085.0 1312.0,1076.25 1314.5,1075.0 1328.75,1075.0 1330.0,1115.0 1330.5,1152.5 1332.0,1152.5 1333.0,1090.0 1334.0,1076.25 1337.5,1076.25 1340.0,1080.0 1342.5,1087.5 1344.0,1093.75 1346.0,1080.0 1348.0,1076.25 1362.5,1076.25 1365.0,1075.0 1372.5,1075.0 1374.0,1115.0 1375.0,1170.0 1376.5,1170.0 1377.5,1155.0 1379.5,1155.0 1381.0,1115.0 1382.0,1080.0 1385.0,1077.5 1390.0,1077.5 1392.0,1075.0 1450.0,1075.0 1451.5,1090.0 1453.0,1115.0 1454.5,1150.0 1456.0,1130.0 1457.5,1126.25 1459.0,1126.25 1460.5,1090.0 1461.5,1076.25 1463.0,1090.0 1464.5,1076.25 1466.0,1115.0 1467.5,1140.0 1469.0,1148.75 1470.5,1105.0 1472.0,1130.0 1473.5,1148.75 1475.0,1148.75 1476.5,1093.75 1478.0,1090.0 1479.5,1075.0 1481.0,1090.0 1482.5,1120.0 1484.0,1090.0 1485.5,1076.25 1488.75,1078.75 1492.5,1076.25 1495.0,1085.0 1496.5,1101.25 1498.0,1108.75 1499.5,1090.0 1501.0,1076.25 1503.75,1075.0 1533.25,1075.0"/>
<text transform="translate(910,1207) rotate(-90)" text-anchor="middle" font-size="25.8" class="l">Accuracy</text>
<text x="1267" y="1425" text-anchor="middle" font-size="26.2" class="l">Rounds</text>
<text x="1038" y="1490.5" textLength="362" lengthAdjust="spacingAndGlyphs" font-size="29" class="c">f) Data set 3 accuracy curve</text>
<path d="M133.25,1523.0 V1885.5 H706.5" class="ax"/>
<text transform="scale(0.9 1)" x="82.7 98.5 123.1" y="1540.0" font-size="39.1" text-anchor="middle" class="d">1.8</text>
<text transform="scale(0.9 1)" x="82.7 98.5 123.1" y="1612.3" font-size="39.1" text-anchor="middle" class="d">1.4</text>
<text transform="scale(0.9 1)" x="82.7 98.5 123.1" y="1684.7" font-size="39.1" text-anchor="middle" class="d">1.0</text>
<text transform="scale(0.9 1)" x="82.7 98.5 123.1" y="1757.0" font-size="39.1" text-anchor="middle" class="d">0.6</text>
<text transform="scale(0.9 1)" x="82.7 98.5 123.1" y="1829.4" font-size="39.1" text-anchor="middle" class="d">0.2</text>
<text transform="scale(0.9 1)" x="62.5 82.7 98.5 123.1" y="1901.7" font-size="39.1" text-anchor="middle" class="d">−0.2</text>
<text transform="scale(0.9 1)" x="148.1" y="1929.6" font-size="39.1" text-anchor="middle" class="d">0</text>
<text transform="scale(0.9 1)" x="286.9 307.1 327.3" y="1929.6" font-size="39.1" text-anchor="middle" class="d">100</text>
<text transform="scale(0.9 1)" x="445.9 466.1 486.3" y="1929.6" font-size="39.1" text-anchor="middle" class="d">200</text>
<text transform="scale(0.9 1)" x="604.9 625.1 645.3" y="1929.6" font-size="39.1" text-anchor="middle" class="d">300</text>
<text transform="scale(0.9 1)" x="764.0 784.2 804.4" y="1929.6" font-size="39.1" text-anchor="middle" class="d">400</text>
<path d="M133.25,1523.75h11.2M133.25,1559.92h7.0M133.25,1596.10h11.2M133.25,1632.27h7.0M133.25,1668.45h11.2M133.25,1704.62h7.0M133.25,1740.80h11.2M133.25,1776.97h7.0M133.25,1813.15h11.2M133.25,1849.33h7.0M204.81,1885.5v-5.9M276.38,1885.5v-11.2M347.94,1885.5v-5.9M419.50,1885.5v-11.2M491.06,1885.5v-5.9M562.62,1885.5v-11.2M634.19,1885.5v-5.9M705.75,1885.5v-11.2" class="tk"/>
<polyline class="cv" stroke-width="3.32" points="134.15,1597.1 135.45,1654.95 136.25,1600.1 134.0,1596.25 135.0,1635.0 136.25,1672.5 137.5,1701.25 138.75,1722.5 140.0,1735.0 140.6,1755.0 141.5,1760.0 142.1,1732.5 143.0,1725.0 143.6,1760.0 144.5,1758.75 145.1,1722.5 145.75,1735.0 146.35,1760.0 147.0,1763.75 147.6,1755.0 148.5,1760.0 149.1,1768.75 150.0,1772.5 150.6,1763.75 151.5,1767.5 152.1,1776.25 152.75,1777.5 153.35,1763.75 154.0,1762.5 154.6,1790.0 155.5,1791.25 156.1,1772.5 157.0,1773.12 157.6,1790.0 158.5,1787.5 159.1,1773.12 160.0,1773.75 160.6,1785.0 161.25,1791.25 161.85,1776.25 162.5,1782.5 163.1,1797.5 163.75,1807.5 164.35,1791.25 165.0,1797.5 165.6,1815.0 166.25,1815.0 166.85,1747.5 167.12,1733.75 167.72,1785.0 168.25,1772.5 168.85,1740.0 169.5,1760.0 170.1,1778.75 171.0,1785.0 171.6,1772.5 172.5,1774.38 173.1,1790.0 174.0,1793.75 174.6,1775.0 175.5,1776.25 176.1,1795.0 176.75,1795.0 177.35,1772.5 177.75,1760.0 178.35,1792.5 179.0,1795.0 179.6,1758.75 180.25,1772.5 180.85,1796.25 181.5,1797.5 182.1,1785.0 182.75,1788.75 183.35,1810.0 184.0,1818.75 184.6,1797.5 185.5,1795.0 186.1,1820.62 187.0,1817.5 187.6,1792.5 188.5,1785.0 189.1,1816.25 190.0,1815.0 190.6,1782.5 191.25,1791.25 191.85,1817.5 192.5,1823.75 193.1,1790.0 193.75,1785.0 194.35,1822.5 195.0,1810.0 195.6,1777.5 196.25,1772.5 196.85,1807.5 197.25,1807.5 197.85,1735.0 197.88,1710.0 198.48,1785.0 198.5,1692.5 199.5,1772.5 200.1,1722.5 200.5,1747.5 201.1,1778.75 201.5,1780.0 202.1,1760.0 202.75,1772.5 203.35,1785.0 203.75,1797.5 204.35,1785.0 205.0,1803.75 205.6,1817.5 206.5,1821.25 207.1,1817.5 208.25,1818.75 208.85,1822.5 210.0,1825.0 210.6,1818.12 211.25,1822.5 211.85,1831.25 212.75,1835.0 213.35,1828.75 214.25,1831.25 214.85,1836.25 215.75,1835.0 216.35,1827.5 217.25,1827.5 217.85,1837.5 218.5,1842.5 219.1,1835.0 220.0,1841.88 220.6,1845.0 222.5,1845.62 223.1,1843.12 225.0,1845.0 225.6,1847.5 226.25,1846.25 226.85,1832.5 227.75,1830.0 228.35,1841.25 229.25,1841.25 229.85,1828.75 230.5,1810.0 231.1,1840.0 231.5,1822.5 232.1,1760.0 232.5,1722.5 233.1,1785.0 233.25,1780.0 233.85,1697.5 234.0,1683.12 235.0,1710.0 235.6,1778.75 236.0,1785.0 236.6,1735.0 237.0,1760.0 237.6,1797.5 238.25,1810.0 238.85,1778.75 239.5,1803.75 240.1,1822.5 241.0,1827.5 241.6,1820.0 242.5,1820.62 243.1,1830.0 243.75,1837.5 244.35,1826.25 245.0,1835.0 245.6,1843.75 246.5,1847.5 247.1,1843.75 248.75,1846.88 251.88,1848.12 255.0,1848.75 262.5,1849.0 265.62,1847.5 268.12,1848.75 307.5,1849.0 308.75,1835.0 310.0,1810.0 311.0,1800.62 312.0,1810.0 313.12,1835.0 314.0,1846.25 316.25,1848.75 330.0,1849.0 338.75,1848.75 342.0,1845.0 346.25,1845.0 348.0,1825.0 349.5,1805.0 351.0,1835.0 352.5,1812.5 354.0,1803.75 355.5,1825.0 357.0,1846.25 360.0,1848.75 380.0,1848.75 480.0,1848.75 481.5,1837.5 482.5,1775.0 483.5,1741.25 485.0,1775.0 486.5,1830.0 487.5,1750.0 488.5,1725.0 489.5,1665.0 491.0,1690.0 492.0,1775.0 493.5,1832.5 495.5,1846.25 498.75,1848.25 568.75,1848.25 570.5,1825.0 571.5,1775.0 572.5,1757.5 574.0,1758.75 575.5,1812.5 577.5,1835.0 580.0,1845.0 583.75,1848.25 611.25,1848.25 613.0,1837.5 614.0,1800.0 615.0,1771.25 616.5,1771.25 618.0,1825.0 620.0,1842.5 623.0,1846.25 625.5,1840.0 627.5,1846.25 629.5,1845.0 631.0,1830.0 632.5,1822.5 634.0,1835.0 635.5,1846.25 638.75,1848.25 705.75,1848.25"/>
<text transform="translate(33.75,1710.5) rotate(-90)" text-anchor="middle" font-size="27.6" class="l">Loss</text>
<text x="423.3" y="1965.7" text-anchor="middle" font-size="28.0" class="l">Rounds</text>
<text x="216.6" y="2024.2" textLength="302" lengthAdjust="spacingAndGlyphs" font-size="29" class="c">g) Data set 4 loss curve</text>
<path d="M975,1523.0 V1887.5 H1561.25" class="ax"/>
<text transform="scale(0.9 1)" x="1018.0 1033.7 1058.4" y="1540.0" font-size="39.1" text-anchor="middle" class="d">1.2</text>
<text transform="scale(0.9 1)" x="1018.0 1033.7 1058.4" y="1600.6" font-size="39.1" text-anchor="middle" class="d">1.0</text>
<text transform="scale(0.9 1)" x="1018.0 1033.7 1058.4" y="1661.2" font-size="39.1" text-anchor="middle" class="d">0.8</text>
<text transform="scale(0.9 1)" x="1018.0 1033.7 1058.4" y="1721.9" font-size="39.1" text-anchor="middle" class="d">0.6</text>
<text transform="scale(0.9 1)" x="1018.0 1033.7 1058.4" y="1782.5" font-size="39.1" text-anchor="middle" class="d">0.4</text>
<text transform="scale(0.9 1)" x="1018.0 1033.7 1058.4" y="1843.1" font-size="39.1" text-anchor="middle" class="d">0.2</text>
<text transform="scale(0.9 1)" x="1018.0 1033.7 1058.4" y="1903.7" font-size="39.1" text-anchor="middle" class="d">0.0</text>
<text transform="scale(0.9 1)" x="1083.3" y="1931.6" font-size="39.1" text-anchor="middle" class="d">0</text>
<text transform="scale(0.9 1)" x="1225.8 1246.0 1266.2" y="1931.6" font-size="39.1" text-anchor="middle" class="d">100</text>
<text transform="scale(0.9 1)" x="1388.4 1408.6 1428.8" y="1931.6" font-size="39.1" text-anchor="middle" class="d">200</text>
<text transform="scale(0.9 1)" x="1551.1 1571.2 1591.4" y="1931.6" font-size="39.1" text-anchor="middle" class="d">300</text>
<text transform="scale(0.9 1)" x="1713.7 1733.9 1754.1" y="1931.6" font-size="39.1" text-anchor="middle" class="d">400</text>
<path d="M975,1523.75h11.2M975,1554.06h7.0M975,1584.38h11.2M975,1614.69h7.0M975,1645.00h11.2M975,1675.31h7.0M975,1705.62h11.2M975,1735.94h7.0M975,1766.25h11.2M975,1796.56h7.0M975,1826.88h11.2M975,1857.19h7.0M1048.19,1887.5v-5.9M1121.38,1887.5v-11.2M1194.56,1887.5v-5.9M1267.75,1887.5v-11.2M1340.94,1887.5v-5.9M1414.12,1887.5v-11.2M1487.31,1887.5v-5.9M1560.50,1887.5v-11.2" class="tk"/>
<polyline class="cv" stroke-width="3.32" points="975.75,1806.0 976.75,1706.88 977.35,1795.0 978.0,1805.0 978.6,1706.88 979.25,1707.5 979.85,1805.0 980.5,1805.0 981.1,1726.25 981.75,1707.5 982.35,1782.5 982.75,1711.25 983.25,1687.5 984.0,1671.88 985.25,1682.5 986.25,1676.25 988.0,1670.0 989.88,1666.25 991.75,1673.75 993.0,1666.25 993.0,1620.0 993.75,1640.0 994.35,1614.38 995.25,1620.0 995.85,1641.25 996.75,1643.75 997.35,1621.25 998.25,1617.5 998.85,1645.0 999.75,1647.5 1000.35,1611.25 1001.25,1602.5 1001.85,1668.75 1002.75,1668.75 1003.35,1607.5 1004.25,1613.75 1004.85,1657.5 1005.75,1645.0 1006.35,1611.25 1007.25,1598.12 1007.85,1651.25 1008.75,1666.25 1009.35,1602.5 1010.25,1618.75 1010.85,1666.25 1011.75,1647.5 1012.35,1620.0 1013.25,1617.5 1013.85,1670.0 1014.75,1670.62 1015.35,1613.75 1016.25,1607.5 1016.85,1670.0 1017.75,1662.5 1018.35,1591.25 1019.25,1591.25 1019.85,1663.12 1020.75,1665.0 1021.35,1588.75 1022.0,1586.88 1022.6,1676.25 1023.5,1676.88 1024.1,1607.5 1025.0,1628.75 1025.6,1657.5 1026.5,1647.5 1027.1,1627.5 1028.0,1607.5 1028.6,1645.0 1029.0,1632.5 1029.6,1598.75 1030.25,1600.0 1030.85,1625.0 1031.75,1632.5 1032.35,1601.25 1033.25,1595.0 1033.85,1636.88 1034.75,1626.25 1035.35,1584.38 1036.25,1584.38 1036.85,1622.5 1037.75,1620.0 1038.35,1584.38 1039.25,1588.75 1039.85,1623.75 1040.75,1628.75 1041.35,1597.5 1042.25,1598.75 1042.85,1645.0 1043.5,1660.62 1044.1,1607.5 1044.75,1620.0 1045.35,1651.25 1046.25,1628.75 1046.85,1622.5 1047.5,1607.5 1048.1,1626.25 1048.5,1591.25 1050.5,1588.75 1052.38,1584.38 1055.5,1588.75 1057.38,1595.0 1058.62,1601.25 1059.88,1595.0 1061.12,1586.25 1065.5,1584.38 1069.25,1584.38 1071.12,1591.25 1072.75,1632.5 1073.35,1595.0 1074.0,1588.75 1074.6,1682.5 1075.25,1707.5 1075.85,1585.0 1076.25,1585.0 1076.85,1710.62 1077.5,1695.0 1078.1,1584.38 1078.75,1584.38 1079.35,1681.25 1080.0,1681.25 1080.6,1584.38 1081.0,1584.38 1081.6,1645.0 1082.25,1620.0 1082.85,1584.38 1083.5,1584.38 1084.1,1645.0 1085.0,1646.25 1085.6,1584.38 1086.25,1584.38 1086.85,1645.0 1087.5,1620.0 1088.1,1588.75 1088.5,1584.38 1089.1,1595.0 1089.25,1584.38 1154.25,1584.38 1155.5,1592.5 1157.0,1598.75 1158.25,1592.5 1159.25,1584.38 1168.0,1584.38 1188.75,1585.0 1192.0,1587.5 1193.5,1600.0 1194.5,1622.5 1197.0,1622.5 1198.0,1600.0 1199.0,1585.0 1200.0,1585.0 1330.0,1585.0 1331.0,1600.0 1332.0,1630.0 1333.5,1600.0 1334.5,1586.25 1336.0,1600.0 1337.5,1632.5 1339.0,1600.0 1340.5,1586.25 1342.5,1585.0 1420.5,1585.0 1421.5,1625.0 1422.5,1681.25 1424.0,1681.25 1425.0,1650.0 1426.5,1600.0 1428.0,1586.25 1430.0,1585.0 1466.25,1585.0 1467.0,1625.0 1468.0,1665.0 1469.25,1665.0 1470.0,1600.0 1470.75,1585.0 1560.5,1585.0"/>
<text transform="translate(878.75,1716) rotate(-90)" text-anchor="middle" font-size="27.6" class="l">Accuracy</text>
<text x="1273" y="1967" text-anchor="middle" font-size="28.0" class="l">Rounds</text>
<text x="1034" y="2024.2" textLength="369" lengthAdjust="spacingAndGlyphs" font-size="29" class="c">h) Data set 4 accuracy curve</text>
</svg>
</body></html>
